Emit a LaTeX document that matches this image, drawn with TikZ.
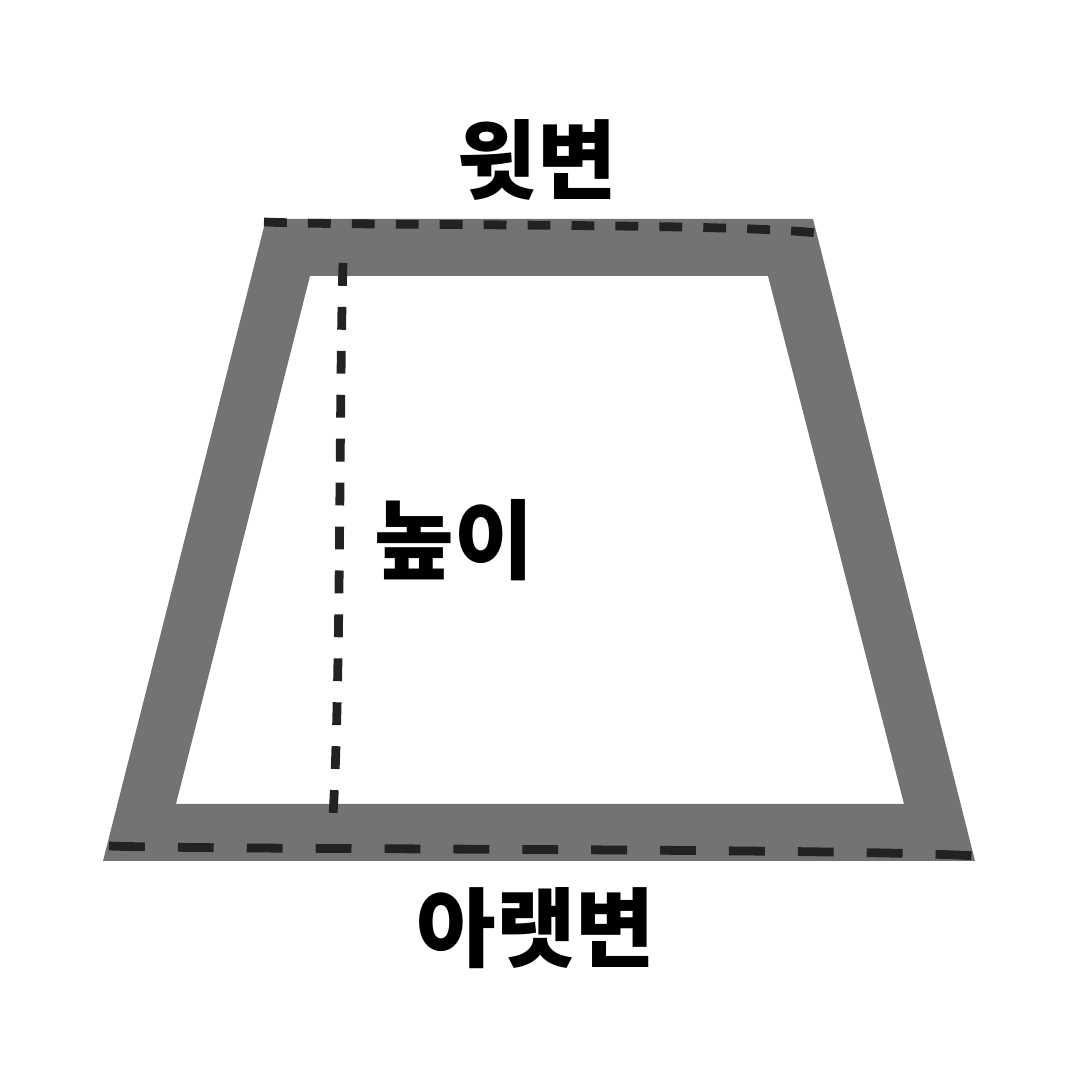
\documentclass[tikz,border=0pt]{standalone}
\usepackage{fontspec}
\usepackage{tikz}
\usetikzlibrary{positioning}
\usepackage{xcolor}
\newfontfamily\kr{Noto Sans CJK KR}
\definecolor{rim}{HTML}{737373}
\definecolor{dashc}{HTML}{222222}

\begin{document}
\begin{tikzpicture}[x=1cm,y=1cm,cut/.style={dashc,line width=2.5pt,dash pattern=on 6.5pt off 6pt},longcut/.style={cut,dash pattern=on 10.2pt off 9.4pt},lbl/.style={font=\kr\bfseries\fontsize{24.6}{28}\selectfont}]
    \useasboundingbox (0,0) rectangle (10.8,10.8);
    \fill[rim,even odd rule] (2.66,8.61) -- (8.13,8.61) -- (9.75,2.19) -- (1.03,2.19) -- cycle
        (3.10,8.04) -- (7.68,8.04) -- (9.04,2.76) -- (1.76,2.76) -- cycle;

    \coordinate (tl) at (2.64,8.58);
    \coordinate (tr) at (8.16,8.47);
    \coordinate (bl) at (1.09,2.34);
    \coordinate (br) at (9.77,2.24);
    \coordinate (ht) at (3.43,8.17);
    \coordinate (hb) at (3.33,2.64);

    \draw[cut] (tl) .. controls (3.6,8.54) and (7.3,8.57) .. (tr);
    \draw[longcut] (bl) .. controls (2.2,2.30) and (8.4,2.32) .. (br);
    \draw[cut] (ht) .. controls (3.39,6.8) and (3.41,4.0) .. (hb);

    \node[lbl] (top) at (5.37,9.20) {윗변};
    \node[lbl] (hgt) at (4.54,5.40) {높이};
    \node[lbl] (bot) at (5.36,1.52) {아랫변};
\end{tikzpicture}
\end{document}
